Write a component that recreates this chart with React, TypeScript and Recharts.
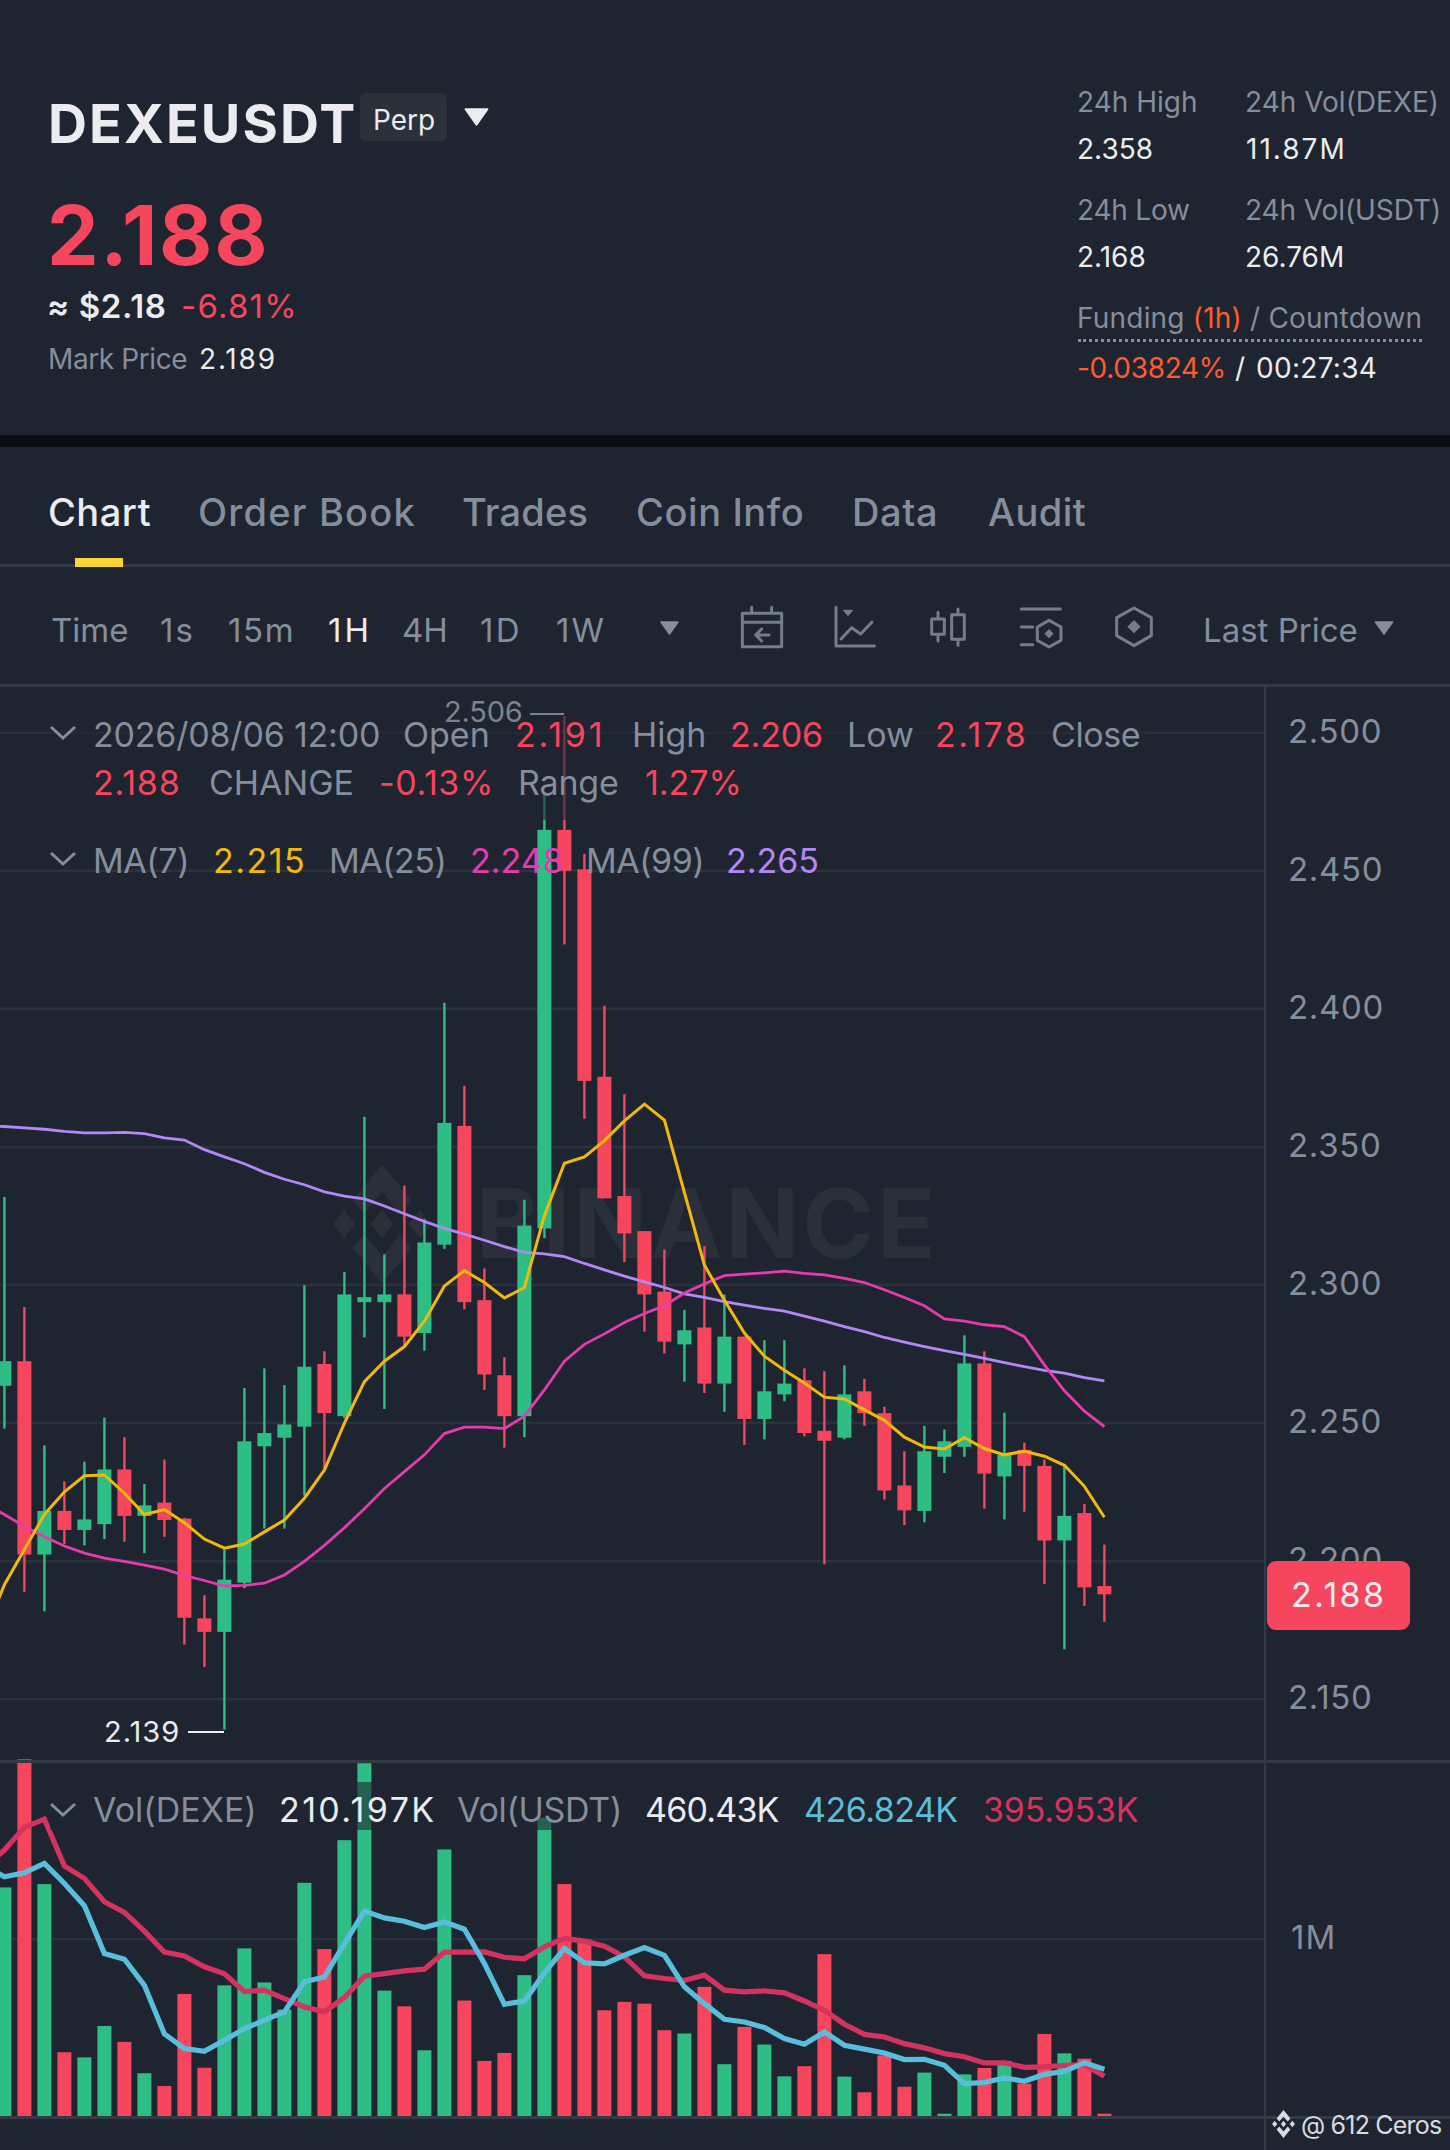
import React from "react";
import { ComposedChart, Bar, Line, XAxis, YAxis, CartesianGrid } from "recharts";

const opens = [2.2635,2.2724,2.2024,2.2182,2.2113,2.2134,2.2332,2.2164,2.2212,2.2154,2.1793,2.1744,2.1922,2.2416,2.2447,2.2487,2.2714,2.2525,2.2938,2.2938,2.2966,2.2826,2.3146,2.3576,2.2945,2.2673,2.2525,2.3205,2.4648,2.4505,2.3754,2.3322,2.3195,2.2976,2.2785,2.2846,2.2643,2.2813,2.2515,2.2604,2.2655,2.2472,2.2447,2.2615,2.2536,2.2274,2.2182,2.2378,2.2414,2.2716,2.2307,2.2403,2.2345,2.2075,2.2174,2.191];
const closes = [2.2724,2.2024,2.2182,2.2113,2.2151,2.2332,2.2164,2.2202,2.2149,2.1795,2.1744,2.1933,2.2434,2.2464,2.2495,2.2704,2.2536,2.2966,2.2956,2.2966,2.2813,2.3154,2.3587,2.2938,2.2676,2.2525,2.3215,2.4648,2.45,2.3739,2.3314,2.3187,2.2966,2.2795,2.2836,2.2643,2.2813,2.2515,2.2615,2.2643,2.2464,2.2436,2.2604,2.2536,2.2256,2.2184,2.2398,2.2434,2.2716,2.2317,2.2385,2.2345,2.2075,2.2164,2.1905,2.188];
const highs = [2.3319,2.292,2.2419,2.2289,2.236,2.252,2.2449,2.2279,2.2368,2.2157,2.1877,2.2042,2.2627,2.2698,2.2637,2.2999,2.276,2.3047,2.3609,2.3111,2.336,2.3238,2.4022,2.3721,2.306,2.2739,2.3309,2.4777,2.506,2.4561,2.4011,2.3691,2.3195,2.3128,2.291,2.3141,2.2966,2.2813,2.28,2.28,2.2698,2.2688,2.2709,2.266,2.2559,2.2398,2.249,2.2477,2.2818,2.276,2.2538,2.2429,2.2368,2.2345,2.2207,2.206];
const lows = [2.248,2.1889,2.1818,2.2062,2.2057,2.208,2.207,2.2029,2.2088,2.1698,2.1617,2.139,2.1902,2.2118,2.2118,2.2238,2.2335,2.2518,2.281,2.2551,2.278,2.2762,2.3131,2.2912,2.262,2.2411,2.2449,2.3169,2.4233,2.3602,2.3314,2.3083,2.2831,2.2752,2.265,2.2609,2.2541,2.2421,2.2441,2.2579,2.2452,2.1989,2.2441,2.249,2.2223,2.2131,2.2141,2.2319,2.2378,2.219,2.2151,2.2179,2.1917,2.1681,2.1838,2.178];
const ma7 = [2.1915,2.2042,2.2169,2.2251,2.2309,2.2312,2.2246,2.2169,2.2187,2.2139,2.208,2.2047,2.2062,2.2106,2.2149,2.2228,2.233,2.25,2.265,2.2724,2.2777,2.2869,2.2996,2.3052,2.3009,2.2953,2.2991,2.3251,2.3441,2.3464,2.3523,2.3594,2.3655,2.3597,2.3335,2.3072,2.2945,2.2826,2.2742,2.2691,2.2645,2.2594,2.2587,2.2548,2.251,2.2449,2.2413,2.2406,2.2447,2.2408,2.2385,2.2398,2.238,2.2347,2.2271,2.2159];
const ma25 = [2.2169,2.2126,2.2088,2.2055,2.2029,2.2011,2.1999,2.1986,2.1971,2.1948,2.193,2.191,2.1912,2.192,2.195,2.1999,2.2057,2.2121,2.219,2.2263,2.2324,2.2385,2.2462,2.2485,2.2485,2.248,2.2525,2.262,2.2724,2.2785,2.2823,2.2864,2.2897,2.2925,2.2971,2.3004,2.3034,2.3039,2.3044,2.305,2.3042,2.3037,2.3024,2.3009,2.2983,2.2955,2.2925,2.2877,2.2869,2.2856,2.2849,2.2813,2.2711,2.2617,2.2543,2.2487];
const ma99 = [2.3574,2.3569,2.3564,2.3556,2.3551,2.3551,2.3553,2.3548,2.3533,2.3525,2.349,2.3464,2.3439,2.3408,2.3383,2.3363,2.3337,2.3322,2.3312,2.3286,2.3258,2.323,2.3205,2.3184,2.3162,2.3139,2.3118,2.3113,2.3103,2.3078,2.3055,2.3032,2.3011,2.2991,2.2968,2.2955,2.294,2.2927,2.2915,2.2905,2.2887,2.2869,2.2849,2.2831,2.281,2.2793,2.2777,2.2762,2.2749,2.2734,2.2719,2.2704,2.2691,2.2681,2.2665,2.2653];
const volumes = [1234,1814,1249,488,465,607,535,393,335,752,418,791,958,804,681,1255,955,1448,1796,767,696,497,1406,722,449,485,837,1549,1249,998,678,716,708,588,573,784,434,603,523,379,425,932,378,307,474,332,396,210,388,417,449,346,571,483,459,210];
const volMa5 = [1282,1300,1343,1252,1151,935,909,791,571,505,492,542,595,633,671,807,829,980,1127,1096,1081,1053,1078,1045,890,705,720,847,958,893,888,927,962,927,784,708,637,625,600,550,524,580,520,502,485,455,456,429,346,351,372,357,388,402,440,411];
const volMa10 = [1403,1506,1543,1331,1275,1169,1121,1036,941,924,875,843,763,769,731,693,671,736,832,844,856,864,941,941,942,918,911,965,1003,991,968,920,834,822,813,837,769,761,766,757,720,678,615,569,557,527,508,482,468,440,440,420,422,429,432,379];

// the averages run in from a candle that lies just off the left edge
const offscreenAverages = { i: -1, ma7: 2.1737, ma25: 2.2207, ma99: 2.3577, volMa5: 1335, volMa10: 1327 };

const priceTicks = [2.15, 2.2, 2.25, 2.3, 2.35, 2.4, 2.45, 2.5];
const volumeTicks = [1000];
const timeGridTicks = [2, 14, 26, 38, 50, 62];

const rows: any[] = [
  offscreenAverages,
  ...opens.map((open, i) => ({
    i, open, close: closes[i], high: highs[i], low: lows[i],
    ma7: ma7[i], ma25: ma25[i], ma99: ma99[i],
    volume: volumes[i], volMa5: volMa5[i], volMa10: volMa10[i],
  })),
];

const FONT = "Inter, 'Noto Sans', sans-serif";
const BG = "#1E2530";
const GRID = "#2C323D";
const LINE = "#343A45";
const MUTED = "#848E9C";
const WHITE = "#EAECEF";
const RED = "#F6465D";
const GREEN = "#2EBD85";
const ORANGE = "#FF5B2E";
const C7 = "#F0B90B";
const C25 = "#E63BAF";
const C99 = "#B387F5";
const CV5 = "#58BEDB";
const CV10 = "#D4335F";

const Candle = (p: any) => {
  const { x, y, width, height, payload } = p;
  if (payload == null || payload.high == null) return null;
  const h = Math.abs(height);
  const k = h / (payload.high - payload.low);
  const up = payload.close >= payload.open;
  const color = up ? GREEN : RED;
  const bodyTop = y + (payload.high - Math.max(payload.open, payload.close)) * k;
  const bodyH = Math.max(Math.abs(payload.open - payload.close) * k, 2);
  return (
    <g>
      <rect x={x + width / 2 - 1.2} y={y} width={2.4} height={h} fill={color} />
      <rect x={x} y={bodyTop} width={width} height={bodyH} fill={color} />
    </g>
  );
};

const VolBar = (p: any) => {
  const { x, y, width, height, payload } = p;
  if (payload == null || payload.volume == null) return null;
  return <rect x={x} y={y} width={width} height={height} fill={payload.close >= payload.open ? GREEN : RED} />;
};

type TP = { x: number; y: number; s: number; c?: string; w?: number; ls?: number; children: React.ReactNode };
const T = ({ x, y, s, c = MUTED, w = 400, ls = 0, children }: TP) => (
  <div style={{ position: "absolute", left: x - 1, top: y, transform: "translateY(-50%)", fontSize: s, color: c, fontWeight: w, letterSpacing: ls, lineHeight: 1, whiteSpace: "nowrap", fontFamily: FONT }}>{children}</div>
);
const R = ({ x, y, w, h, c, r = 0 }: { x: number; y: number; w: number; h: number; c: string; r?: number }) => (
  <div style={{ position: "absolute", left: x, top: y, width: w, height: h, background: c, borderRadius: r }} />
);
const Tri = ({ x, y, w, h, c }: { x: number; y: number; w: number; h: number; c: string }) => (
  <svg style={{ position: "absolute", left: x, top: y }} width={w} height={h} viewBox="0 0 20 14">
    <path d="M1.5 1 H18.5 L10 13 Z" fill={c} stroke={c} strokeWidth={1.5} strokeLinejoin="round" />
  </svg>
);
const Chevron = ({ x, y }: { x: number; y: number }) => (
  <svg style={{ position: "absolute", left: x, top: y }} width={28} height={16} viewBox="0 0 28 16">
    <path d="M2 2 L14 13 L26 2" fill="none" stroke={MUTED} strokeWidth={3} />
  </svg>
);
const BrandMark = ({ x, y, w, h, c }: { x: number; y: number; w: number; h: number; c: string }) => (
  <svg style={{ position: "absolute", left: x, top: y }} width={w} height={h} viewBox="0 0 98 120" fill={c}>
    <path d="M49 0 L78.4 36 L67 49.8 L49 27.6 L31 49.8 L19.6 36 Z" />
    <path d="M49 120 L78.4 84 L67 70.2 L49 92.4 L31 70.2 L19.6 84 Z" />
    <path d="M49 46 L60.3 60 L49 74 L37.7 60 Z" />
    <path d="M0 60 L11.3 46 L22.5 60 L11.3 74 Z" />
    <path d="M98 60 L86.7 46 L75.5 60 L86.7 74 Z" />
  </svg>
);
const ToolbarIcons = () => (
  <svg style={{ position: "absolute", left: 700, top: 590 }} width={520} height={80} viewBox="0 0 1560 240" fill="none" stroke="#747D8B" strokeWidth={9} strokeLinecap="round" strokeLinejoin="round">
    <path d="M127 70 H245 V170 H127 Z M127 97 H245 M155 52 V68 M215 52 V68" />
    <path d="M207 135 H168 M185 117 L167 135 L185 153" />
    <path d="M408 52 V168 H523 M423 147 L455 113 L482 132 L516 96" />
    <path d="M427 59 H461 L444 79 Z" fill="#747D8B" stroke="none" />
    <path d="M695 87 H733 V133 H695 Z M714 67 V87 M714 133 V153" />
    <path d="M755 74 H793 V148 H755 Z M774 57 V74 M774 148 V166" />
    <path d="M964 57 H1081 M964 111 H998 M964 164 H998" />
    <path d="M1047 91 L1083 111 V151 L1047 171 L1012 151 V111 Z" />
    <path d="M1047 117 L1061 131 L1047 145 L1033 131 Z" fill="#747D8B" stroke="none" />
    <path d="M1302 54 L1354 83 V137 L1302 167 L1250 137 V83 Z" />
    <path d="M1302 90 L1322 110 L1302 130 L1282 110 Z" fill="#747D8B" stroke="none" />
  </svg>
);

const tabs: [string, number, number][] = [["Order Book", 199, 1.2], ["Trades", 463, 0.2], ["Coin Info", 637, 0.6], ["Data", 853, 0.6], ["Audit", 989, 0.5]];
const intervals: [string, number, string, number][] = [["Time", 52, MUTED, 0], ["1s", 161, MUTED, 2], ["15m", 229, MUTED, 1.6], ["1H", 329, WHITE, 3], ["4H", 403, MUTED, 0], ["1D", 481, MUTED, 2.4], ["1W", 557, MUTED, 2.2]];

export default function App() {
  return (
    <div style={{ position: "absolute", left: 0, top: 0, width: 1450, height: 2150, background: BG, overflow: "hidden", fontFamily: FONT }}>
      {/* header */}
      <T x={49} y={124} s={54} c={WHITE} w={700} ls={2.1}>DEXEUSDT</T>
      <R x={360} y={93} w={87} h={48} c="#2B3139" r={6} />
      <T x={374} y={120} s={28} c={WHITE}>Perp</T>
      <Tri x={463} y={108} w={27} h={18} c={WHITE} />
      <T x={48} y={236} s={82} c={RED} w={700} ls={1.7}>2.188</T>
      <T x={48} y={306} s={33} c={WHITE} w={600} ls={0.6}>≈ $2.18</T>
      <T x={182} y={306} s={33} c={RED} ls={1.2}>-6.81%</T>
      <T x={49} y={359} s={28} ls={-0.4}>Mark Price</T>
      <T x={200} y={359} s={28} c={WHITE} ls={1.8}>2.189</T>
      <T x={1078} y={102} s={28}>24h High</T>
      <T x={1246} y={102} s={28}>24h Vol(DEXE)</T>
      <T x={1078} y={149} s={28} c={WHITE}>2.358</T>
      <T x={1247} y={149} s={28} c={WHITE} ls={2}>11.87M</T>
      <T x={1078} y={210} s={28} ls={-0.2}>24h Low</T>
      <T x={1246} y={210} s={28} ls={-0.1}>24h Vol(USDT)</T>
      <T x={1078} y={257} s={28} c={WHITE}>2.168</T>
      <T x={1246} y={257} s={28} c={WHITE}>26.76M</T>
      <T x={1078} y={318} s={28} ls={0.2}>Funding <span style={{ color: ORANGE }}>(1h)</span> / Countdown</T>
      <div style={{ position: "absolute", left: 1078, top: 339, width: 344, borderTop: `3px dotted ${MUTED}` }} />
      <T x={1078} y={368} s={28} c={ORANGE} ls={-0.3}>-0.03824%</T>
      <T x={1236} y={368} s={28} c={WHITE}>/</T>
      <T x={1257} y={368} s={28} c={WHITE} ls={0.3}>00:27:34</T>
      <R x={0} y={435} w={1450} h={12} c="#0B0E11" />

      {/* tabs */}
      <T x={49} y={512} s={38} c={WHITE} w={500} ls={0.5}>Chart</T>
      {tabs.map(([t, x, ls]) => <T key={t} x={x} y={512} s={38} w={500} ls={ls}>{t}</T>)}
      <R x={0} y={564} w={1450} h={3} c={LINE} />
      <R x={75} y={558} w={48} h={9} c="#FCD535" />

      {/* toolbar */}
      {intervals.map(([t, x, c, ls]) => <T key={t} x={x} y={630} s={33} c={c} ls={ls}>{t}</T>)}
      <Tri x={659} y={621} w={21} h={14} c={MUTED} />
      <ToolbarIcons />
      <T x={1204} y={630} s={33}>Last Price</T>
      <Tri x={1373} y={621} w={22} h={14} c={MUTED} />
      <R x={0} y={684} w={1450} h={3} c={LINE} />

      {/* watermark */}
      <BrandMark x={333} y={1164} w={98} h={120} c="#2A2F3A" />
      <T x={477} y={1223} s={96} c="#2A2F3A" w={700} ls={3.6}>BINANCE</T>

      {/* price pane */}
      <div style={{ position: "absolute", left: 0, top: 686 }}>
        <ComposedChart width={1450} height={1074} data={rows} margin={{ top: 0, right: 0, bottom: 0, left: 0 }}>
          <CartesianGrid stroke={GRID} strokeWidth={2.5} syncWithTicks />
          <XAxis dataKey="i" type="number" domain={[-0.22, 63.03]} ticks={timeGridTicks} tick={false} axisLine={false} tickLine={false} height={0} allowDataOverflow />
          <YAxis orientation="right" width={185} domain={[2.128, 2.5169]} ticks={priceTicks} interval={0} allowDataOverflow axisLine={false} tickLine={false} tickMargin={17} tickFormatter={(v: number) => v.toFixed(3)} tick={{ fill: MUTED, fontSize: 33, fontFamily: FONT, letterSpacing: 0.7, dy: -1.5 }} />
          <Bar dataKey={(d: any) => (d.high == null ? null : [d.low, d.high])} barSize={14} shape={Candle} isAnimationActive={false} />
          <Line dataKey="ma99" stroke={C99} strokeWidth={2.8} dot={false} isAnimationActive={false} />
          <Line dataKey="ma25" stroke={C25} strokeWidth={2.8} dot={false} isAnimationActive={false} />
          <Line dataKey="ma7" stroke={C7} strokeWidth={3} dot={false} isAnimationActive={false} />
        </ComposedChart>
      </div>

      {/* volume pane */}
      <div style={{ position: "absolute", left: 0, top: 1750 }}>
        <ComposedChart width={1450} height={367} data={rows} margin={{ top: 0, right: 0, bottom: 0, left: 0 }}>
          <CartesianGrid stroke={GRID} strokeWidth={2.5} syncWithTicks />
          <XAxis dataKey="i" type="number" domain={[-0.22, 63.03]} ticks={timeGridTicks} tick={false} axisLine={false} tickLine={false} height={0} allowDataOverflow />
          <YAxis orientation="right" width={185} domain={[195, 1856]} ticks={volumeTicks} interval={0} allowDataOverflow axisLine={false} tickLine={false} tickMargin={20} tickFormatter={(v: number) => `${v / 1000}M`} tick={{ fill: MUTED, fontSize: 33, fontFamily: FONT, letterSpacing: 1.2, dy: -2 }} />
          <Bar dataKey="volume" barSize={14} shape={VolBar} isAnimationActive={false} />
          <Line dataKey="volMa10" stroke={CV10} strokeWidth={5.2} dot={false} isAnimationActive={false} />
          <Line dataKey="volMa5" stroke={CV5} strokeWidth={5.2} dot={false} isAnimationActive={false} />
        </ComposedChart>
      </div>

      {/* pane rules */}
      <R x={0} y={1760} w={1450} h={3} c={LINE} />
      <R x={0} y={2116} w={1450} h={3} c={LINE} />
      <R x={1264} y={686} w={2} h={1464} c={LINE} />

      {/* legends */}
      <R x={50} y={713} w={1095} h={107} c="rgba(30,37,48,0.6)" />
      <R x={50} y={1782} w={1095} h={48} c="rgba(30,37,48,0.6)" />
      <Chevron x={49} y={725} />
      <T x={94} y={735} s={34} ls={-0.2}>2026/08/06 12:00</T>
      <T x={404} y={735} s={34}>Open</T>
      <T x={516} y={735} s={34} c={RED} ls={2.8}>2.191</T>
      <T x={633} y={735} s={34}>High</T>
      <T x={731} y={735} s={34} c={RED} ls={-0.2}>2.206</T>
      <T x={848} y={735} s={34}>Low</T>
      <T x={936} y={735} s={34} c={RED} ls={2.4}>2.178</T>
      <T x={1052} y={735} s={34} ls={-0.4}>Close</T>
      <T x={94} y={783} s={34} c={RED} ls={0.8}>2.188</T>
      <T x={210} y={783} s={34}>CHANGE</T>
      <T x={380} y={783} s={34} c={RED} ls={0.6}>-0.13%</T>
      <T x={519} y={783} s={34} ls={-0.2}>Range</T>
      <T x={646} y={783} s={34} c={RED}>1.27%</T>
      <Chevron x={49} y={851} />
      <T x={94} y={861} s={34} ls={-0.4}>MA(7)</T>
      <T x={214} y={861} s={34} c={C7} ls={1.5}>2.215</T>
      <T x={330} y={861} s={34} ls={-0.5}>MA(25)</T>
      <T x={471} y={861} s={34} c={C25}>2.248</T>
      <T x={587} y={861} s={34} ls={-0.5}>MA(99)</T>
      <T x={727} y={861} s={34} c={C99}>2.265</T>
      <T x={445} y={711} s={29} c="#7C838E" ls={-0.2}>2.506</T>
      <R x={530} y={713} w={34} h={2} c="#7C838E" />
      <T x={105} y={1731} s={29} c={WHITE} ls={1}>2.139</T>
      <R x={188} y={1731} w={36} h={2} c={WHITE} />
      <R x={1267} y={1561} w={143} h={69} c={RED} r={9} />
      <T x={1292} y={1595} s={34} c={WHITE} ls={2.4}>2.188</T>
      <Chevron x={49} y={1802} />
      <T x={94} y={1810} s={34}>Vol(DEXE)</T>
      <T x={280} y={1810} s={34} c={WHITE} ls={2.4}>210.197K</T>
      <T x={458} y={1810} s={34} ls={-0.3}>Vol(USDT)</T>
      <T x={646} y={1810} s={34} c={WHITE} ls={-0.8}>460.43K</T>
      <T x={805} y={1810} s={34} c={CV5} ls={-0.5}>426.824K</T>
      <T x={984} y={1810} s={34} c={CV10} ls={-0.2}>395.953K</T>

      {/* attribution */}
      <BrandMark x={1270} y={2110} w={27} h={28} c="#D8DBE0" />
      <T x={1302} y={2125} s={25} c="#D8DBE0" ls={-0.8}>@ 612 Ceros</T>
    </div>
  );
}
